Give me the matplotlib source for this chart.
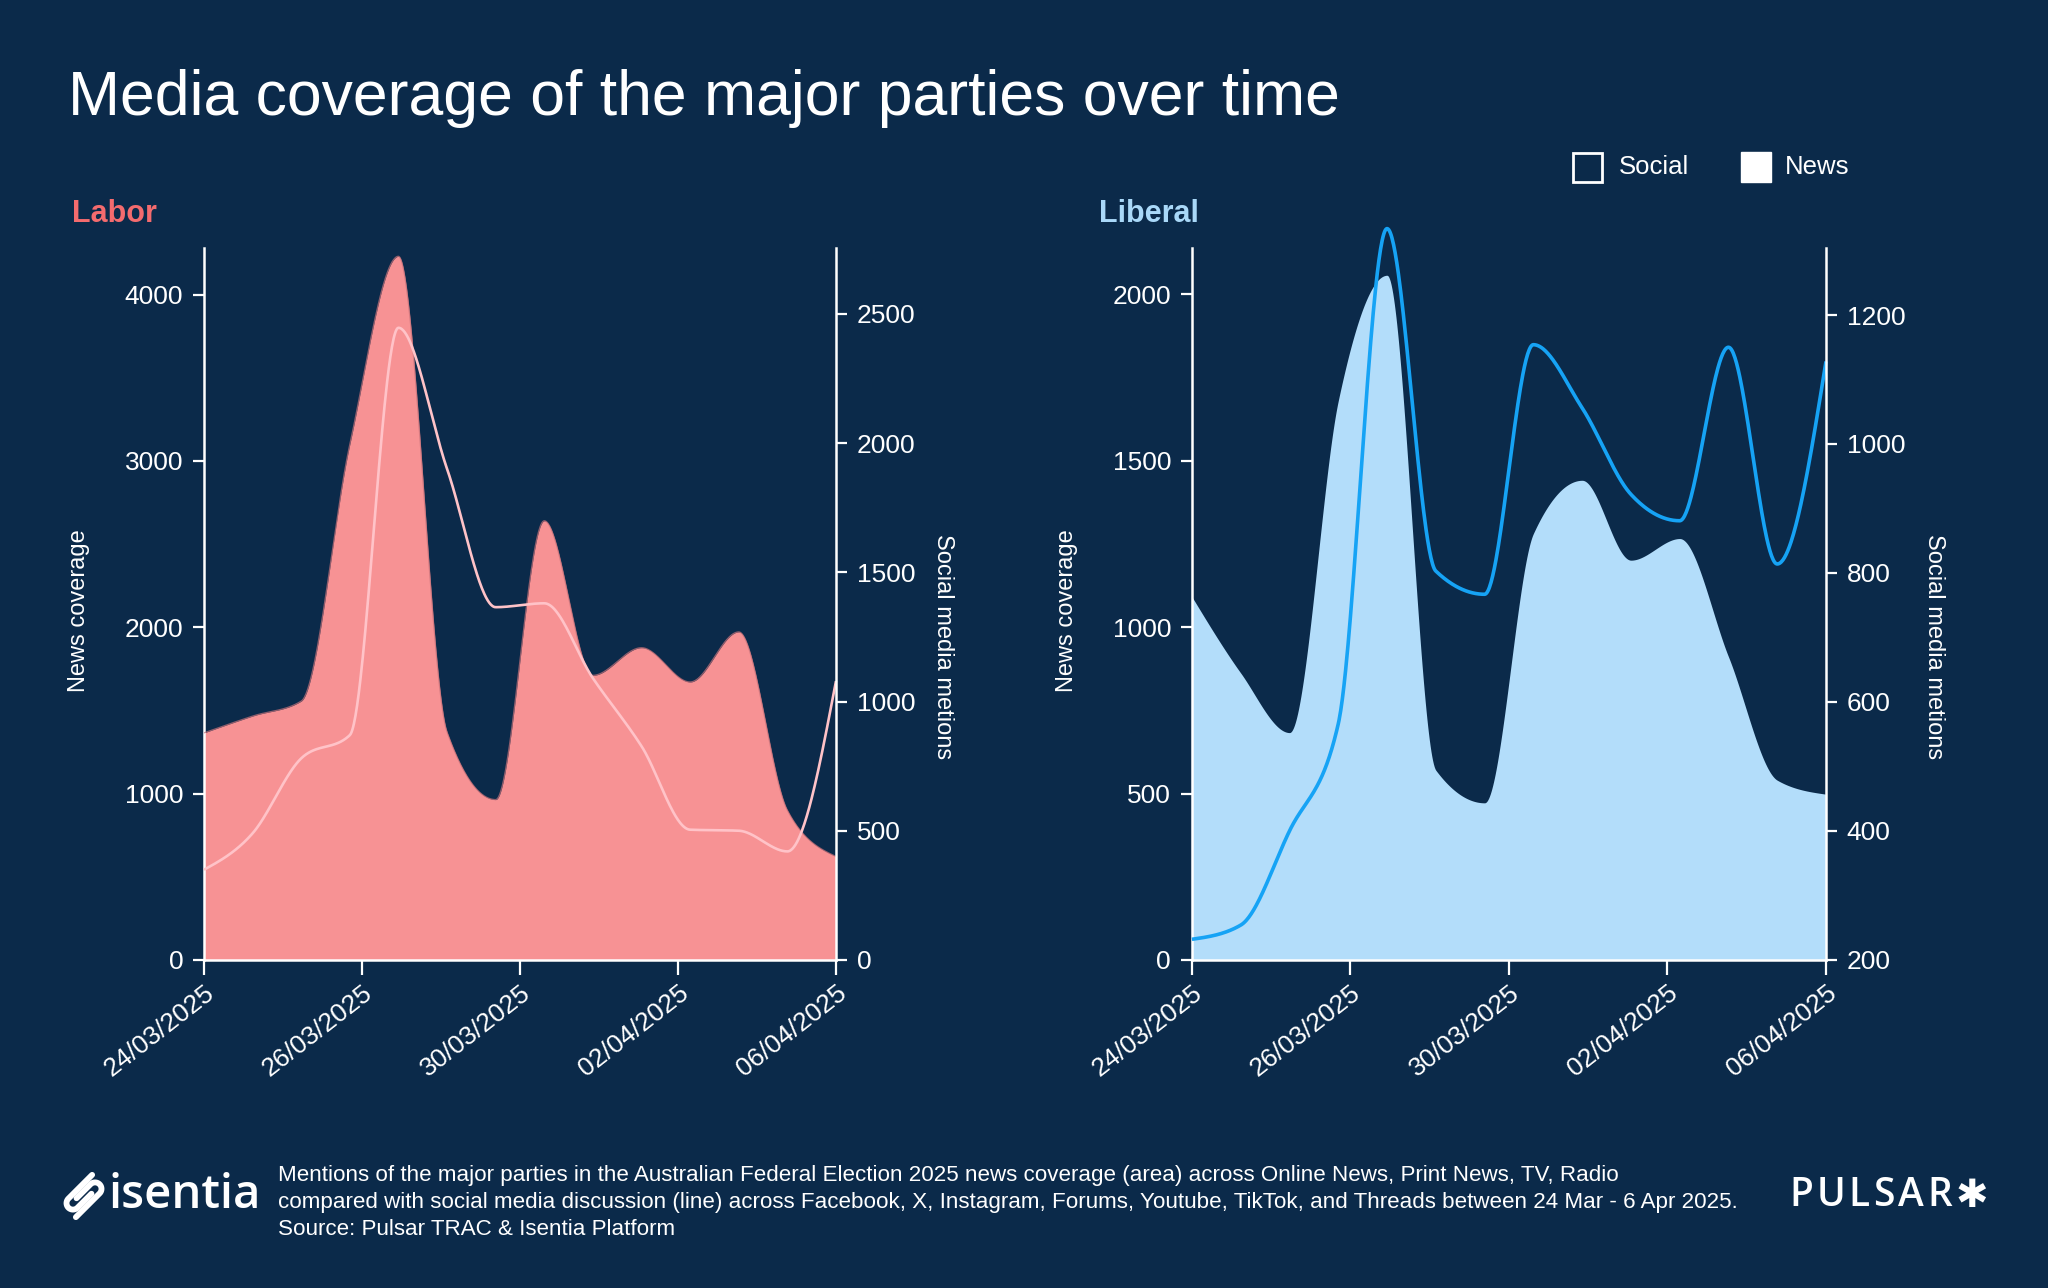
import numpy as np
import matplotlib
matplotlib.use("Agg")
from matplotlib import pyplot as plt
from matplotlib.lines import Line2D
from matplotlib.patches import Rectangle

plt.rcParams['font.family'] = ['Liberation Sans', 'DejaVu Sans']

# daily values, 24 Mar - 6 Apr 2025
days = ['24/03/2025', '25/03/2025', '26/03/2025', '27/03/2025', '28/03/2025', '29/03/2025', '30/03/2025',
        '31/03/2025', '01/04/2025', '02/04/2025', '03/04/2025', '04/04/2025', '05/04/2025', '06/04/2025']
tick_pos = [0, 3.25, 6.5, 9.75, 13]
tick_labels = ['24/03/2025', '26/03/2025', '30/03/2025', '02/04/2025', '06/04/2025']

labor_news = [1365, 1466, 1556, 3100, 4230, 1370, 964, 2640, 1711, 1877, 1671, 1972, 900, 622]
labor_social = [349, 490, 780, 870, 2446, 1900, 1365, 1380, 1090, 827, 504, 500, 420, 1079]
liberal_news = [1091, 862, 683, 1680, 2057, 570, 472, 1281, 1441, 1201, 1266, 911, 540, 498]
liberal_social = [232, 254, 400, 566, 1334, 803, 767, 1154, 1056, 922, 881, 1150, 814, 1128]

BG = '#0b2a4a'
WHITE = '#ffffff'


def monotone(y, n=60):
    # d3 curveMonotoneX style smoothing for drawing the curve through the points
    y = np.asarray(y, dtype=float)
    x = np.arange(len(y), dtype=float)
    s = np.diff(y)
    t = np.zeros(len(y))
    for i in range(1, len(y) - 1):
        s0, s1 = s[i - 1], s[i]
        p = (s0 + s1) / 2
        t[i] = (np.sign(s0) + np.sign(s1)) * min(abs(s0), abs(s1), 0.5 * abs(p))
    t[0] = (3 * s[0] - t[1]) / 2
    t[-1] = (3 * s[-1] - t[-2]) / 2
    xs, ys = [], []
    u = np.linspace(0, 1, n, endpoint=False)
    for i in range(len(y) - 1):
        h00 = 2 * u**3 - 3 * u**2 + 1
        h10 = u**3 - 2 * u**2 + u
        h01 = -2 * u**3 + 3 * u**2
        h11 = u**3 - u**2
        xs.append(x[i] + u)
        ys.append(h00 * y[i] + h10 * t[i] + h01 * y[i + 1] + h11 * t[i + 1])
    xs.append([x[-1]])
    ys.append([y[-1]])
    return np.concatenate(xs), np.concatenate(ys)


def style_axes(ax, ax2):
    for a in (ax, ax2):
        a.set_facecolor('none')
        for side in ('top', 'left', 'right', 'bottom'):
            a.spines[side].set_visible(False)
        a.tick_params(colors=WHITE, labelsize=19, length=8, width=1.6, pad=7)
    ax.spines['left'].set_visible(True)
    ax.spines['bottom'].set_visible(True)
    ax2.spines['right'].set_visible(True)
    for sp in (ax.spines['left'], ax.spines['bottom'], ax2.spines['right']):
        sp.set_color(WHITE)
        sp.set_linewidth(1.8)
    ax.set_xlim(0, 13)
    ax.set_xticks(tick_pos)
    ax.set_xticklabels(tick_labels, rotation=38, ha='right', rotation_mode='anchor')
    ax.tick_params(axis='x', length=11, pad=4)


def draw_panel(rect, news, social, news_color, line_color, lw, ylim_l, ylim_r,
               yticks_l, yticks_r, title, title_color, title_x, edge=None):
    ax = fig.add_axes(rect)
    ax2 = ax.twinx()
    xs, ys = monotone(news)
    ax.fill_between(xs, 0, ys, color=news_color, lw=0, zorder=2)
    if edge:
        ax.plot(xs, ys, color=edge, lw=0.9, alpha=0.7, zorder=3)
    xl, yl = monotone(social)
    ax2.plot(xl, yl, color=line_color, lw=lw, clip_on=False, solid_capstyle='butt')
    ax.set_ylim(*ylim_l)
    ax2.set_ylim(*ylim_r)
    ax.set_yticks(yticks_l)
    ax2.set_yticks(yticks_r)
    style_axes(ax, ax2)
    ax.set_ylabel('News coverage', color=WHITE, fontsize=17)
    ax.yaxis.set_label_coords(-0.18, 0.49)
    ax2.set_ylabel('Social media metions', color=WHITE, fontsize=17, rotation=-90, va='center')
    ax2.yaxis.set_label_coords(1.17, 0.44)
    fig.text(title_x, 0.828, title, color=title_color, fontsize=22, fontweight='bold',
             ha='left', va='baseline')
    return ax, ax2


fig = plt.figure(figsize=(20.48, 12.88), dpi=100)
fig.patch.set_facecolor(BG)

fig.text(0.0332, 0.911, 'Media coverage of the major parties over time', color=WHITE,
         fontsize=45, ha='left', va='baseline')

draw_panel([0.0996, 0.2547, 0.3086, 0.5528], labor_news, labor_social, '#f79294', '#ffc3c8', 1.9,
           (0, 4280), (0, 2755), [0, 1000, 2000, 3000, 4000], [0, 500, 1000, 1500, 2000, 2500],
           'Labor', '#f46b6e', 72 / 2048, edge='#c7727a')
draw_panel([0.582, 0.2547, 0.3096, 0.5528], liberal_news, liberal_social, '#b3ddfa', '#16a3f5', 2.6,
           (0, 2139), (200, 1304), [0, 500, 1000, 1500, 2000], [200, 400, 600, 800, 1000, 1200],
           'Liberal', '#a9d8f8', 1099 / 2048)

# legend
fig.patches.append(Rectangle((1573 / 2048, 1 - 182 / 1288), 29 / 2048, 29 / 1288, transform=fig.transFigure,
                             facecolor='none', edgecolor=WHITE, lw=2))
fig.text(1619 / 2048, 1 - 167 / 1288, 'Social', color=WHITE, fontsize=18.5, va='center', ha='left')
fig.patches.append(Rectangle((1741 / 2048, 1 - 182 / 1288), 30 / 2048, 30 / 1288, transform=fig.transFigure,
                             facecolor=WHITE, edgecolor=WHITE, lw=1))
fig.text(1785 / 2048, 1 - 167 / 1288, 'News', color=WHITE, fontsize=18.5, va='center', ha='left')

# footer
footer = ('Mentions of the major parties in the Australian Federal Election 2025 news coverage (area) across Online News, Print News, TV, Radio\n'
          'compared with social media discussion (line) across Facebook, X, Instagram, Forums, Youtube, TikTok, and Threads between 24 Mar - 6 Apr 2025.\n'
          'Source: Pulsar TRAC & Isentia Platform')
fig.text(278 / 2048, 1 - 1165 / 1288, footer, color=WHITE, fontsize=16.1, ha='left', va='top', linespacing=1.38)

# isentia logo: a paperclip-like mark and the word
def hook(sign):
    pts = [(0.45, 0.2), (-0.28, 0.2)]
    ang = np.linspace(np.pi / 2, 3 * np.pi / 2, 20)
    pts += [(-0.28 + 0.14 * np.cos(a), 0.06 + 0.14 * np.sin(a)) for a in ang]
    pts += [(0.15, -0.08)]
    return np.array(pts) * sign

cx, cy, sc = 84, 1196, 46
rot = np.pi / 4
for sgn in (1, -1):
    p = hook(sgn)
    u = p[:, 0] * np.cos(rot) - p[:, 1] * np.sin(rot)
    v = p[:, 0] * np.sin(rot) + p[:, 1] * np.cos(rot)
    fig.lines.append(Line2D((cx + u * sc) / 2048, 1 - (cy - v * sc) / 1288, transform=fig.transFigure,
                            color=WHITE, lw=4.2, solid_capstyle='round', solid_joinstyle='round'))
fig.text(109 / 2048, 1 - 1196 / 1288, 'isentia', color=WHITE, fontsize=34, ha='left', va='center',
         family=['Open Sans', 'DejaVu Sans'], fontweight='semibold')

# PULSAR wordmark with even letter spacing, measured per glyph
renderer = fig.canvas.get_renderer()
x0 = 1789
for ch in 'PULSAR\u2731':
    fam = ['DejaVu Sans'] if ch == '\u2731' else ['Open Sans', 'DejaVu Sans']
    t = fig.text(x0 / 2048, 1 - 1196 / 1288, ch, color=WHITE, fontsize=28, ha='left', va='center',
                 family=fam, fontweight='semibold')
    x0 += t.get_window_extent(renderer).width + 3.5

fig.savefig('out.png', dpi=100, facecolor=BG)
